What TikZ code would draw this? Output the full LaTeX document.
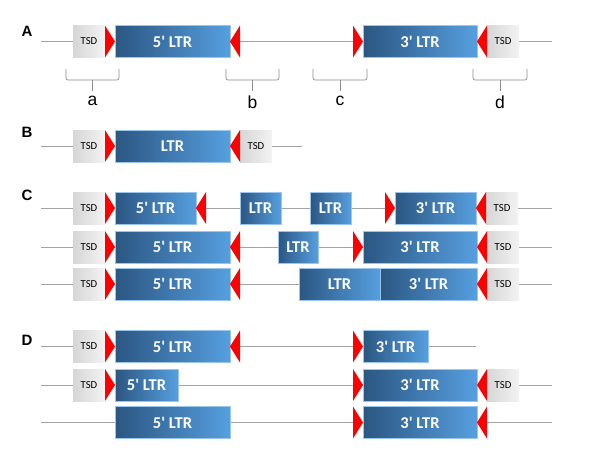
\documentclass[tikz,border=0pt]{standalone}
\usepackage{fontspec}
\setmainfont{Liberation Sans}
\newfontfamily\carlito{Carlito}
\usepackage{xcolor}
\usepackage{tikz}
\usetikzlibrary{calc,positioning}

\definecolor{ltrdark}{HTML}{2B5682}
\definecolor{ltrlight}{HTML}{569FDF}
\definecolor{tsdgray}{HTML}{D6D6D6}
\definecolor{tsdlight}{HTML}{F3F3F3}
\definecolor{dnagray}{HTML}{A3A3A3}
\definecolor{brkgray}{HTML}{8C8C8C}

% red repeat ends: tip touches the LTR box
\newcommand{\fwdrep}[1]{\fill[rep] ($(#1.north west)+(-10,0)$) -- (#1.west) -- ($(#1.south west)+(-10,0)$) -- cycle;}
\newcommand{\revrep}[1]{\fill[rep] ($(#1.north east)+(10,0)$) -- (#1.east) -- ($(#1.south east)+(10,0)$) -- cycle;}

\begin{document}
\begin{tikzpicture}[
  x=1pt, y=-1pt,
  node distance=10pt,
  box/.style={inner sep=0pt, outer sep=0pt, minimum height=32pt, anchor=west},
  ltr/.style={box, left color=ltrdark, right color=ltrlight, draw=ltrlight!60!white, line width=0.5pt,
    text=white, font=\carlito\bfseries\fontsize{16.5}{18}\selectfont},
  tsd/.style={box, left color=tsdgray, right color=tsdlight, minimum width=32pt,
    font=\carlito\fontsize{10.7}{12}\selectfont},
  rep/.style={fill=red},
  dna/.style={draw=dnagray, line width=1pt},
  brk/.style={draw=brkgray, line width=0.7pt, rounded corners=2pt},
  panel/.style={font=\bfseries\fontsize{15}{17}\selectfont},
  part/.style={font=\fontsize{17.5}{19}\selectfont}
]
\useasboundingbox (0,0) rectangle (590,448);

% ---------------- A
\node[panel] (pA) at (27,31) {A};
\coordinate (a0) at (41,41.5);
\coordinate (a9) at (552,41.5);
\draw[dna] (a0) -- (a9);
\node[tsd] (tsdA1) at (73,41.5) {TSD};
\node[ltr, minimum width=115pt, right=of tsdA1] (ltrA1) {5' LTR};
\node[ltr, minimum width=114pt] (ltrA2) at (363,41.5) {3' LTR};
\node[tsd, right=of ltrA2] (tsdA2) {TSD};
\fwdrep{ltrA1}
\revrep{ltrA1}
\fwdrep{ltrA2}
\revrep{ltrA2}
\draw[brk] (66,69) |- (119,80) -- (119,69);
\draw[brk] (92.5,80) -- (92.5,91) node[part, below=1pt] (la) {a};
\draw[brk] (226,69) |- (279,80) -- (279,69);
\draw[brk] (252.5,80) -- (252.5,91) node[part, below=1pt] (lb) {b};
\draw[brk] (313,69) |- (367,80) -- (367,69);
\draw[brk] (340,80) -- (340,91) node[part, below=1pt] (lc) {c};
\draw[brk] (473,69) |- (527,80) -- (527,69);
\draw[brk] (500,80) -- (500,91) node[part, below=1pt] (ld) {d};

% ---------------- B
\node[panel] (pB) at (27,132) {B};
\coordinate (b0) at (41,146);
\coordinate (b9) at (302,146);
\draw[dna] (b0) -- (b9);
\node[tsd] (tsdB1) at (73,146) {TSD};
\node[ltr, minimum width=115pt, right=of tsdB1] (ltrB) {LTR};
\node[tsd, right=of ltrB] (tsdB2) {TSD};
\fwdrep{ltrB}
\revrep{ltrB}

% ---------------- C
\node[panel] (pC) at (27,195) {C};
\coordinate (c10) at (41,208);
\coordinate (c19) at (552,208);
\draw[dna] (c10) -- (c19);
\node[tsd] (tsdC11) at (73,208) {TSD};
\node[ltr, minimum width=81pt, right=of tsdC11] (ltrC11) {5' LTR};
\node[ltr, minimum width=41pt] (ltrC12) at (240,208) {LTR};
\node[ltr, minimum width=41pt] (ltrC13) at (310,208) {LTR};
\node[ltr, minimum width=81pt] (ltrC14) at (395,208) {3' LTR};
\node[tsd, right=of ltrC14] (tsdC12) {TSD};
\fwdrep{ltrC11}
\revrep{ltrC11}
\fwdrep{ltrC14}
\revrep{ltrC14}

\coordinate (c20) at (41,247);
\coordinate (c29) at (552,247);
\draw[dna] (c20) -- (c29);
\node[tsd] (tsdC21) at (73,247) {TSD};
\node[ltr, minimum width=115pt, right=of tsdC21] (ltrC21) {5' LTR};
\node[ltr, minimum width=40pt] (ltrC22) at (278,247) {LTR};
\node[ltr, minimum width=114pt] (ltrC23) at (363,247) {3' LTR};
\node[tsd, right=of ltrC23] (tsdC22) {TSD};
\fwdrep{ltrC21}
\revrep{ltrC21}
\fwdrep{ltrC23}
\revrep{ltrC23}

\coordinate (c30) at (41,284);
\coordinate (c39) at (552,284);
\draw[dna] (c30) -- (c39);
\node[tsd] (tsdC31) at (73,284) {TSD};
\node[ltr, minimum width=115pt, right=of tsdC31] (ltrC31) {5' LTR};
\node[ltr, minimum width=81pt] (ltrC32) at (299,284) {LTR};
\node[ltr, minimum width=97pt, right=0pt of ltrC32] (ltrC33) {3' LTR};
\node[tsd, right=of ltrC33] (tsdC32) {TSD};
\fwdrep{ltrC31}
\revrep{ltrC31}
\revrep{ltrC33}

% ---------------- D
\node[panel] (pD) at (27,340) {D};
\coordinate (d10) at (41,346.5);
\coordinate (d19) at (476,346.5);
\draw[dna] (d10) -- (d19);
\node[tsd] (tsdD11) at (73,346.5) {TSD};
\node[ltr, minimum width=115pt, right=of tsdD11] (ltrD11) {5' LTR};
\node[ltr, minimum width=65pt] (ltrD12) at (363,346.5) {3' LTR};
\fwdrep{ltrD11}
\revrep{ltrD11}
\fwdrep{ltrD12}

\coordinate (d20) at (41,385);
\coordinate (d29) at (552,385);
\draw[dna] (d20) -- (d29);
\node[tsd] (tsdD21) at (73,385) {TSD};
\node[ltr, minimum width=63pt, right=of tsdD21] (ltrD21) {5' LTR};
\node[ltr, minimum width=114pt] (ltrD22) at (363,385) {3' LTR};
\node[tsd, right=of ltrD22] (tsdD22) {TSD};
\fwdrep{ltrD21}
\fwdrep{ltrD22}
\revrep{ltrD22}

\coordinate (d30) at (41,422.5);
\coordinate (d39) at (552,422.5);
\draw[dna] (d30) -- (d39);
\node[ltr, minimum width=115pt] (ltrD31) at (115,422.5) {5' LTR};
\node[ltr, minimum width=114pt] (ltrD32) at (363,422.5) {3' LTR};
\fwdrep{ltrD32}
\revrep{ltrD32}
\end{tikzpicture}
\end{document}
